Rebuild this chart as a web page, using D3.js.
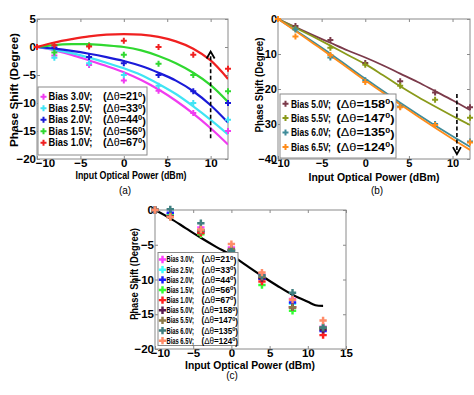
<!DOCTYPE html>
<html>
<head>
<meta charset="utf-8">
<script src="https://cdn.jsdelivr.net/npm/d3@7"></script>
<style>
body { margin: 0; background: #fff; }
svg text { font-family: Arial, "Liberation Sans", sans-serif; }
</style>
</head>
<body>
<svg id="fig" width="474" height="395"></svg>
<script>
// input power where phase was measured, and grid for the fitted curves (dBm)
const xMeas = [-10, -8, -4, 0, 4, 8, 12];
const xFit = [-10, -8, -6, -4, -2, 0, 2, 4, 6, 8, 10, 12];

// (a) low bias voltages
const biasA = ["3.0V", "2.5V", "2.0V", "1.5V", "1.0V"];
const dThetaA = [21, 33, 44, 56, 67];
const meas30 = [0, -1.5, -3.2, -6.0, -7.8, -11.8, -15.0];
const meas25 = [0, -1.9, -2.9, -5.0, -6.9, -10.0, -13.0];
const meas20 = [0, -0.1, -1.8, -2.9, -5.0, -7.9, -10.0];
const meas15 = [0, -1.0, 0.3, -1.4, -3.0, -5.0, -7.9];
const meas10 = [0, 0.3, 0.1, 1.1, 0.0, -1.4, -3.9];
const fit30 = [0, -0.6, -1.4, -2.4, -3.4, -4.5, -5.9, -7.6, -9.6, -11.9, -14.5, -17.4];
const fit25 = [0, -0.5, -1.1, -1.9, -2.8, -3.8, -5.0, -6.6, -8.4, -10.6, -13.0, -15.6];
const fit20 = [0, -0.3, -0.7, -1.2, -1.8, -2.5, -3.4, -4.6, -6.0, -7.9, -10.4, -13.5];
const fit15 = [0, 0.35, 0.5, 0.5, 0.3, 0, -0.6, -1.6, -2.9, -4.6, -6.8, -9.8];
const fit10 = [0, 0.8, 1.4, 1.9, 2.2, 2.3, 2.2, 1.8, 1.0, -0.3, -2.4, -5.7];

// (b) high bias voltages
const biasB = ["5.0V", "5.5V", "6.0V", "6.5V"];
const dThetaB = [158, 147, 135, 124];
const meas50 = [0, -2.0, -6.0, -12.6, -17.8, -21.0, -25.2];
const meas55 = [0, -2.7, -8.2, -13.1, -19.1, -23.1, -28.2];
const meas60 = [0, -3.0, -11.0, -17.5, -25.0, -30.0, -35.0];
const meas65 = [0, -5.0, -10.3, -18.0, -25.2, -30.3, -35.3];
const fit50 = [0, -2.3, -4.6, -6.8, -9.0, -11.0, -13.2, -15.6, -18.0, -20.6, -23.2, -26.0];
const fit55 = [0, -2.5, -5.0, -7.6, -10.3, -12.9, -16.0, -19.2, -22.2, -25.0, -27.7, -30.3];
const fit60 = [0, -3.2, -6.5, -9.9, -13.5, -17.1, -20.5, -23.9, -27.2, -30.4, -33.5, -36.5];
const fit65 = [0, -3.4, -6.9, -10.4, -14.0, -17.6, -21.0, -24.4, -27.8, -31.1, -34.3, -37.4];

// (c) all biases, normalised, with one common model curve
const biasC = biasA.concat(biasB);
const dThetaC = dThetaA.concat(dThetaB);
const normC = [
  [0, -0.6, -2.5, -5.4, -9.3, -12.8, -16.8],
  [0, -0.7, -3.0, -5.7, -9.7, -13.5, -17.0],
  [0, -0.4, -3.2, -5.8, -9.9, -13.3, -17.4],
  [0, -0.8, -3.5, -6.0, -10.8, -14.5, -17.0],
  [0, -0.9, -3.3, -5.9, -10.3, -14.0, -18.0],
  [0, -0.9, -2.9, -5.8, -9.8, -14.0, -17.2],
  [0, -1.0, -3.0, -5.6, -9.6, -14.0, -16.9],
  [0, 0.1, -1.9, -5.9, -9.4, -11.9, -16.9],
  [0, -1.0, -2.8, -4.9, -9.0, -12.9, -15.9]
];
const xModel = [-10, -8, -6, -4, -2, 0, 2, 4, 6, 8, 10, 11, 12];
const model = [0, -1.2, -2.6, -4.0, -5.3, -6.5, -8.0, -9.5, -10.9, -12.2, -13.2, -13.7, -13.8];

// axis ticks
const xTicksAB = [-10, -5, 0, 5, 10];
const xTicksC = [-10, -5, 0, 5, 10, 15];
const yTicksA = [-20, -15, -10, -5, 0, 5];
const yTicksB = [-40, -30, -20, -10, 0];
const yTicksC = [-20, -15, -10, -5, 0];

// dashed trend arrows: [x, from, to]
const arrowA = [10, -16.3, -0.8];
const arrowB = [10.5, -21.4, -38.6];

const colA = ["#f03cf0", "#40e4f4", "#1a1ad8", "#30d830", "#f02020"];
const colB = ["#7b3a4a", "#8a9a1a", "#3f8c9a", "#ff8c1a"];
const colC = ["#ff40ff", "#40ffff", "#1a1aff", "#33ff33", "#ff2020", "#5a1a50", "#8c7a4a", "#3f7f80", "#ff8c69"];

const svg = d3.select("#fig");
const grey = "#8a8a8a";

// squeeze a text horizontally to a given width (the scan is narrow)
function fitWidth(t, x, y, w) {
  const n = t.node().getComputedTextLength();
  t.attr("transform", `translate(${x},${y}) scale(${w / n},1)`);
}

function panel(c) {
  const x = d3.scaleLinear().domain(c.xDom).range([c.left, c.right]);
  const y = d3.scaleLinear().domain(c.yDom).range([c.bottom, c.top]);
  const g = svg.append("g");

  g.append("clipPath").attr("id", "clip" + c.id).append("rect")
    .attr("x", c.left).attr("y", c.top)
    .attr("width", c.right - c.left).attr("height", c.bottom - c.top);

  // ticks (inward, matlab style) on all four sides
  const axes = [
    [d3.axisBottom(x).tickValues(c.xTicks), `translate(0,${c.bottom})`],
    [d3.axisTop(x).tickValues(c.xTicks).tickFormat(""), `translate(0,${c.top})`],
    [d3.axisLeft(y).tickValues(c.yTicks), `translate(${c.left},0)`],
    [d3.axisRight(y).tickValues(c.yTicks).tickFormat(""), `translate(${c.right},0)`]
  ];
  axes.forEach(([ax, tr], k) => {
    const a = g.append("g").attr("transform", tr)
      .call(ax.tickSizeInner(-3).tickSizeOuter(0).tickPadding(k === 0 ? 0 : 1));
    a.select(".domain").remove();
    a.selectAll("line").attr("stroke", grey);
    a.selectAll("text").attr("font-size", c.tickFs).attr("font-weight", "bold")
      .attr("font-family", "Arial, 'Liberation Sans', sans-serif").attr("fill", "#000");
    if (k === 0) a.selectAll(".tick text").filter((d, i) => i === 0).attr("dx", c.firstDx);
  });

  g.append("rect").attr("x", c.left).attr("y", c.top)
    .attr("width", c.right - c.left).attr("height", c.bottom - c.top)
    .attr("fill", "none").attr("stroke", grey).attr("stroke-width", 1);

  // fitted curves
  const line = d3.line().x(d => x(d[0])).y(d => y(d[1])).curve(d3.curveCatmullRom);
  const curves = g.append("g").attr("clip-path", `url(#clip${c.id})`);
  c.fits.forEach((f, i) => {
    curves.append("path").datum(c.fitX.map((v, j) => [v, f[j]]))
      .attr("d", line).attr("fill", "none")
      .attr("stroke", c.fitCol ? c.fitCol : c.colors[i]).attr("stroke-width", c.lw);
  });

  // measured points
  const sym = d3.symbol().type(d3.symbolCross).size(c.mSize);
  c.meas.forEach((m, i) => {
    g.append("g").selectAll("path").data(xMeas.map((v, j) => [v, m[j]])).join("path")
      .attr("d", sym).attr("fill", c.colors[i])
      .attr("transform", d => `translate(${x(d[0])},${y(d[1])})`);
  });

  // arrow
  if (c.arrow) {
    const [ax, a0, a1] = c.arrow;
    const px = x(ax), p0 = y(a0), p1 = y(a1), s = Math.sign(p1 - p0);
    g.append("line").attr("x1", px).attr("x2", px).attr("y1", p0).attr("y2", p1 - s * 2)
      .attr("stroke", "#000").attr("stroke-width", 1.6).attr("stroke-dasharray", "4,2.5");
    g.append("path").attr("d", `M${px - 4},${p1 - s * 7}L${px},${p1}L${px + 4},${p1 - s * 7}`)
      .attr("fill", "none").attr("stroke", "#000").attr("stroke-width", 1.8);
  }

  // axis titles
  g.append("text").attr("x", c.xt[0]).attr("y", c.xt[1])
    .attr("text-anchor", "middle").attr("font-size", 11).attr("font-weight", "bold")
    .attr("textLength", c.xt[2]).attr("lengthAdjust", "spacingAndGlyphs")
    .text("Input Optical Power (dBm)");
  g.append("text").attr("transform", `translate(${c.yt[0]},${c.yt[1]}) rotate(-90)`)
    .attr("text-anchor", "middle").attr("font-size", 11.5).attr("font-weight", "bold")
    .attr("textLength", c.yt[2]).attr("lengthAdjust", "spacingAndGlyphs")
    .text("Phase Shift (Degree)");

  // legend
  const L = c.leg;
  g.append("rect").attr("x", L.x).attr("y", L.y).attr("width", L.w).attr("height", L.h)
    .attr("fill", "#fff").attr("stroke", grey).attr("stroke-width", 1);
  c.bias.forEach((b, i) => {
    const ry = L.y0 + i * L.dy;
    g.append("path").attr("d", sym).attr("fill", c.colors[i])
      .attr("transform", `translate(${L.mx},${ry})`);
    const lab = g.append("text").attr("dy", "0.35em")
      .attr("font-size", L.fs).attr("font-weight", "bold")
      .text(`Bias ${b};`);
    fitWidth(lab, L.tx, ry, L.tl);
    const t = g.append("text").attr("dy", "0.35em")
      .attr("font-size", L.fs).attr("font-weight", "bold");
    t.append("tspan").text("(");
    t.append("tspan").attr("font-weight", "normal").text("\u0394\u03b8");
    t.append("tspan").text("=" + c.dTheta[i]);
    t.append("tspan").attr("dy", "-0.45em").attr("font-size", L.fs * 0.7).text("0");
    t.append("tspan").attr("dy", "0.45em").text(")");
    fitWidth(t, L.dx, ry, c.dTheta[i] >= 100 ? L.dl3 : L.dl2);
  });

  svg.append("text").attr("x", c.cap[0]).attr("y", c.cap[1]).attr("text-anchor", "middle")
    .attr("font-family", "'Liberation Serif', 'DejaVu Serif', serif").attr("font-size", 10)
    .text(c.cap[2]);
}

panel({
  id: "a", left: 37, right: 228, top: 19, bottom: 159,
  xDom: [-10, 12], yDom: [-20, 5], xTicks: xTicksAB, yTicks: yTicksA, firstDx: 8, tickFs: 11.5,
  fitX: xFit, fits: [fit30, fit25, fit20, fit15, fit10], lw: 2.2,
  meas: [meas30, meas25, meas20, meas15, meas10], colors: colA, mSize: 20,
  bias: biasA, dTheta: dThetaA, arrow: arrowA,
  xt: [131, 179, 111], yt: [18, 90, 114], cap: [125, 194, "(a)"],
  leg: { x: 38, y: 87, w: 109, h: 68, y0: 96.7, dy: 11.5, mx: 43.5, tx: 48.5, tl: 44,
         dx: 103, dl2: 43, dl3: 45, fs: 10 }
});

panel({
  id: "b", left: 278, right: 470, top: 19, bottom: 159,
  xDom: [-10, 12], yDom: [-40, 0], xTicks: xTicksAB, yTicks: yTicksB, firstDx: 2, tickFs: 11,
  fitX: xFit, fits: [fit50, fit55, fit60, fit65], lw: 1.8,
  meas: [meas50, meas55, meas60, meas65], colors: colB, mSize: 20,
  bias: biasB, dTheta: dThetaB, arrow: arrowB,
  xt: [374, 181, 131], yt: [263, 85, 95], cap: [377, 194, "(b)"],
  leg: { x: 280, y: 94, w: 116, h: 64, y0: 103.7, dy: 14.4, mx: 285.5, tx: 291, tl: 40,
         dx: 336.5, dl2: 54, dl3: 58, fs: 11 }
});

panel({
  id: "c", left: 155, right: 346, top: 210, bottom: 349,
  xDom: [-10, 15], yDom: [-20, 0], xTicks: xTicksC, yTicks: yTicksC, firstDx: 5, tickFs: 11.5,
  fitX: xModel, fits: [model], fitCol: "#000", lw: 2.2,
  meas: normC, colors: colC, mSize: 30,
  bias: biasC, dTheta: dThetaC, arrow: null,
  xt: [250, 369, 130], yt: [138, 274, 92], cap: [232, 379, "(c)"],
  leg: { x: 158, y: 252.5, w: 80, h: 93, y0: 259.5, dy: 10.15, mx: 162.5, tx: 166.5, tl: 27.5,
         dx: 201.5, dl2: 35, dl3: 36.5, fs: 8.5 }
});
</script>
</body>
</html>
